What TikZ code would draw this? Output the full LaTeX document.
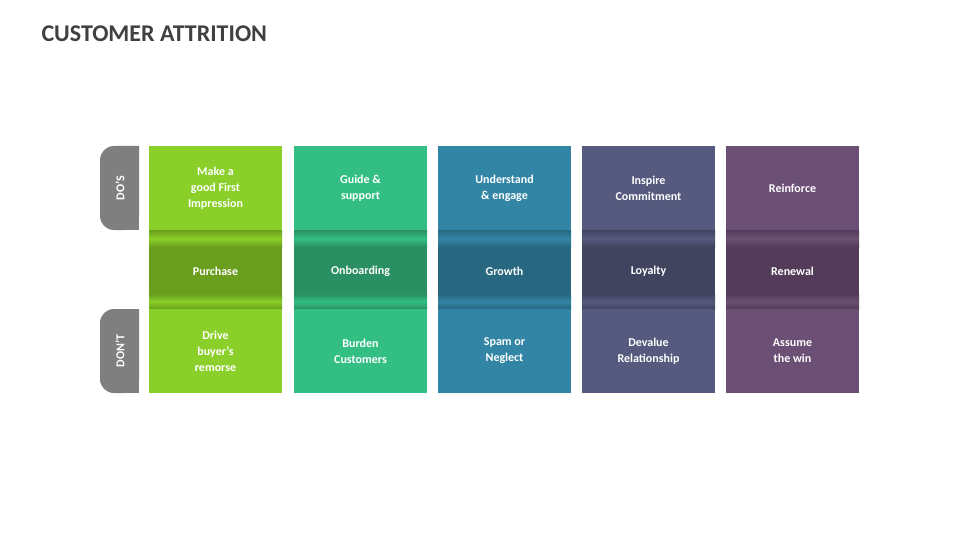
\documentclass[tikz,border=0pt]{standalone}
\usepackage{fontspec}
\setmainfont{Carlito}
\definecolor{cA}{HTML}{8BCF2A}\definecolor{dA}{HTML}{6A9E1F}
\definecolor{cB}{HTML}{33BF83}\definecolor{dB}{HTML}{2A8F62}
\definecolor{cC}{HTML}{3385A5}\definecolor{dC}{HTML}{27677F}
\definecolor{cD}{HTML}{555A7E}\definecolor{dD}{HTML}{41445F}
\definecolor{cE}{HTML}{6C4F74}\definecolor{dE}{HTML}{533C59}
\definecolor{tabgray}{HTML}{7F7F7F}
\definecolor{titlec}{HTML}{404040}
\tikzset{txt/.style={text=white,font=\bfseries\fontsize{12}{16}\selectfont,align=center},
mid/.style={text=white,font=\bfseries\fontsize{12}{14}\selectfont},
tabtxt/.style={text=white,font=\bfseries\fontsize{12}{14}\selectfont,rotate=90}}
\begin{document}
\begin{tikzpicture}[x=1pt,y=-1pt]
\useasboundingbox (0,0) rectangle (960,540);
\fill[white] (0,0) rectangle (960,540);
\node[anchor=west,text=titlec,font=\bfseries\fontsize{24}{28}\selectfont] (title) at (38,34) {CUSTOMER ATTRITION};
\fill[tabgray,rounded corners=14pt] (139,146) -- (100,146) -- (100,230) -- (139,230) [sharp corners] -- cycle;
\fill[tabgray] (125,146) rectangle (139,230);
\fill[tabgray,rounded corners=14pt] (139,309) -- (100,309) -- (100,393) -- (139,393) [sharp corners] -- cycle;
\fill[tabgray] (125,309) rectangle (139,393);
\node[tabtxt] (dos) at (120,188) {DO’S};
\node[tabtxt] (dont) at (120,351) {DON’T};
\foreach \x/\c/\d/\t/\m/\b [count=\i] in {149/cA/dA/{Make a\\good First\\Impression}/Purchase/{Drive\\buyer’s\\remorse},
294/cB/dB/{Guide \&\\support}/Onboarding/{Burden\\Customers},
438/cC/dC/{Understand\\\& engage}/Growth/{Spam or\\Neglect},
582/cD/dD/{Inspire\\Commitment}/Loyalty/{Devalue\\Relationship},
726/cE/dE/{Reinforce}/Renewal/{Assume\\the win}}{
\fill[\c] (\x,146) rectangle ++(133,84);
\shade[top color=\d,bottom color=\d,middle color=\c] (\x,230) rectangle ++(133,17);
\fill[\d] (\x,247) rectangle ++(133,47);
\shade[top color=\d,bottom color=\d,middle color=\c] (\x,294) rectangle ++(133,15);
\fill[\c] (\x,309) rectangle ++(133,84);
\node[txt] (top\i) at (\x+66.5,188) {\t};
\node[mid] (mid\i) at (\x+66.5,271) {\m};
\node[txt] (bot\i) at (\x+66.5,351) {\b};
}
\end{tikzpicture}
\end{document}
